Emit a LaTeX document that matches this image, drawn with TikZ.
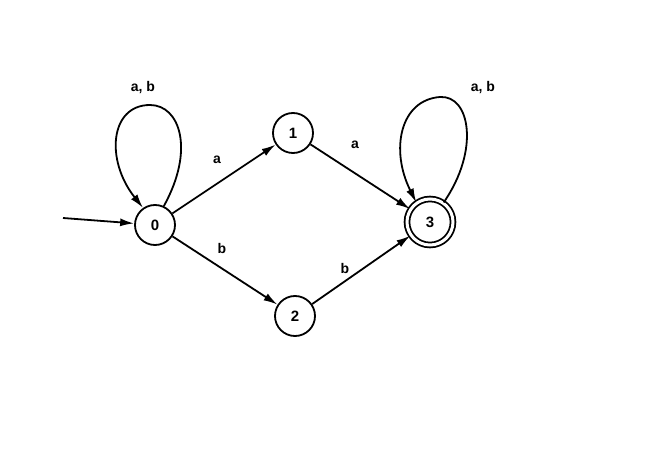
\documentclass[tikz,border=0pt]{standalone}
\usepackage{fontspec}
\setmainfont{Liberation Sans}
\usetikzlibrary{arrows.meta}
\begin{document}
\begin{tikzpicture}[x=1pt,y=-1pt,
  st/.style={circle,draw,line width=1.8pt,minimum size=40pt,inner sep=0pt,font=\bfseries\fontsize{15}{15}\selectfont},
  acc/.style={st,double,double distance=3pt,minimum size=46pt},
  tr/.style={-{Latex[length=14pt,width=8pt]},line width=1.8pt},
  lb/.style={font=\bfseries\fontsize{14}{14}\selectfont}]
\useasboundingbox (0,0) rectangle (651,457);
\node[st] (q0) at (155,225) {0};
\node[st] (q1) at (293,133) {1};
\node[st] (q2) at (295,316) {2};
\node[acc] (q3) at (430,222) {3};
\coordinate (s) at (63,218);
\draw[tr] (s) -- (q0);
\draw[tr] (q0) -- (q1);
\draw[tr] (q0) -- (q2);
\draw[tr] (q1) -- (q3);
\draw[tr] (q2) -- (q3);
\draw[tr] (q0.65) .. controls (195,150) and (180,105) .. (150,105) .. controls (110,105) and (105,160) .. (q0.125);
\draw[tr] (q3.55) .. controls (480,150) and (470,95) .. (440,97) .. controls (400,100) and (390,150) .. (q3.125);
\node[lb] (l0) at (143,88) {a, b};
\node[lb] (l3) at (483,88) {a, b};
\node[lb] (la) at (217,160) {a};
\node[lb] (lb1) at (222,248) {b};
\node[lb] (la2) at (355,145) {a};
\node[lb] (lb2) at (345,268) {b};
\end{tikzpicture}
\end{document}
